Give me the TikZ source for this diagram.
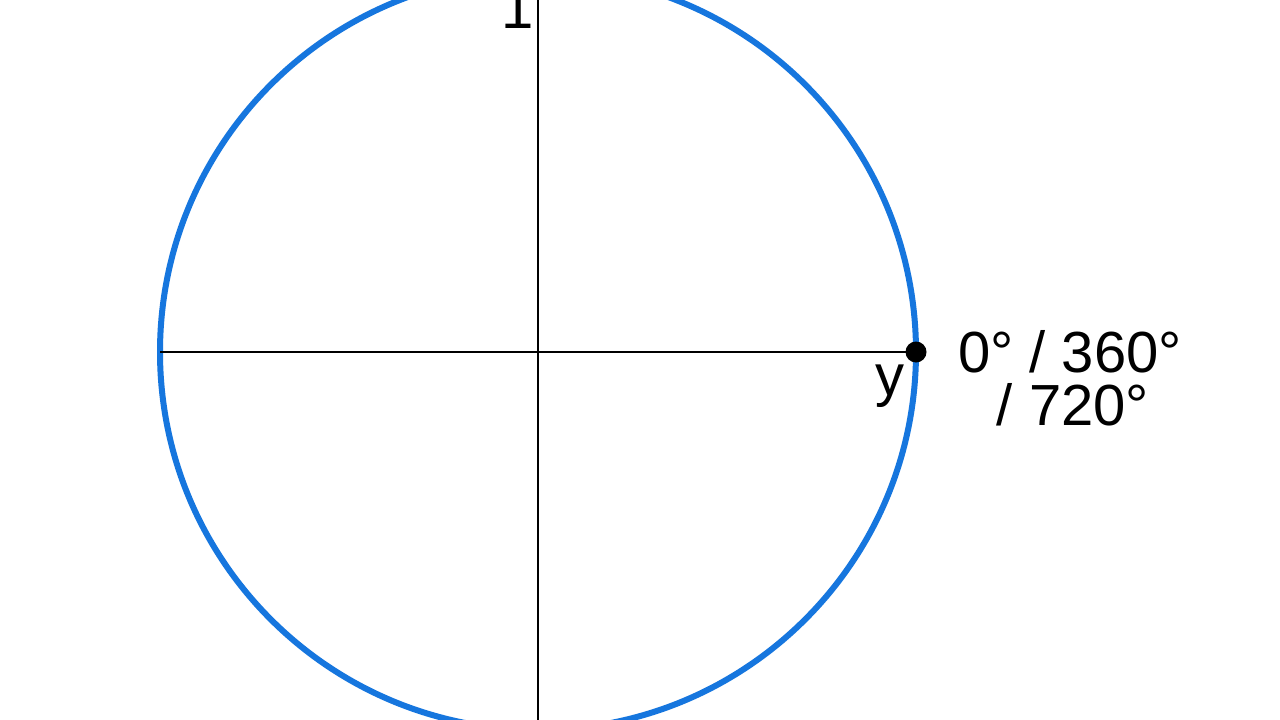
\documentclass[tikz,border=0pt]{standalone}
\usepackage{fontspec}
\setmainfont{Liberation Sans}
\definecolor{circblue}{RGB}{22,118,222}
\tikzset{
  axisline/.style={line width=2pt, black},
  unitcircle/.style={line width=6pt, draw=circblue},
  bigtext/.style={font=\fontsize{58}{53}\selectfont, inner sep=0pt},
  pointdot/.style={circle, fill=black, inner sep=0pt, minimum size=21pt}
}
\begin{document}
\begin{tikzpicture}[x=1pt,y=-1pt]
\useasboundingbox (0,0) rectangle (1280,720);
\clip (0,0) rectangle (1280,720);
\fill[white] (0,0) rectangle (1280,720);
\coordinate (O) at (538,352);
\coordinate (L) at (160,352);
\coordinate (T) at (538,-5);
\coordinate (B) at (538,725);
\draw[unitcircle] (O) circle[radius=378];
\draw[axisline] (L) -- (916,352) coordinate (R);
\draw[axisline] (T) -- (B);
\node[pointdot] (dot) at (R) {};
\node[bigtext, anchor=base west] (one) at (501,28) {1};
\node[bigtext, anchor=base] (ylab) at (890,395) {y};
\node[bigtext, anchor=base] (ang1) at (1070,372) {0° / 360°};
\node[bigtext, anchor=base] (ang2) at (1073,425) {/ 720°};
\end{tikzpicture}
\end{document}
